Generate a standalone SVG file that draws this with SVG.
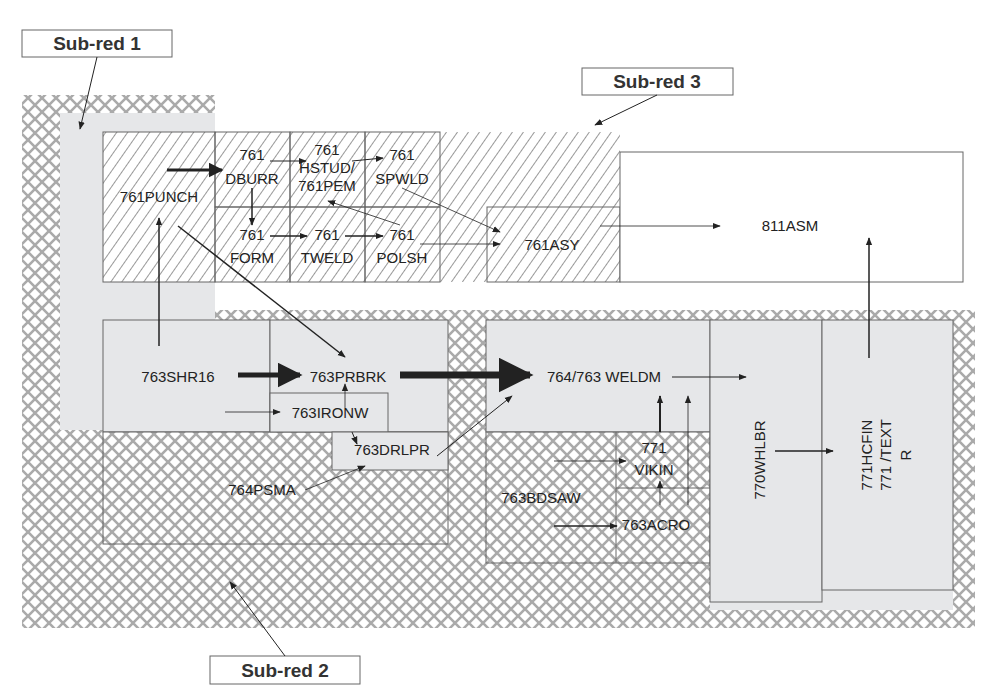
<svg xmlns="http://www.w3.org/2000/svg" width="994" height="700" viewBox="0 0 994 700">
<style>
text{font-family:"Liberation Sans",Arial,sans-serif;font-size:15px;fill:#222}
.b{fill:none;stroke:#666;stroke-width:1}
.g{fill:#e6e7e9;stroke:#666;stroke-width:1}
.c{stroke:#222;fill:none}
.lab{font-family:"Liberation Sans Narrow","Liberation Sans",sans-serif;font-weight:bold;font-size:19px;fill:#333}
</style>
<defs>
<pattern id="x" width="14" height="14" patternUnits="userSpaceOnUse"><rect width="14" height="14" fill="#fff"/><path d="M0 0L14 14M14 0L0 14" stroke="#aaa" stroke-width="2.6"/></pattern>
<pattern id="d" width="9" height="9" patternUnits="userSpaceOnUse" patternTransform="rotate(35)"><rect width="9" height="9" fill="#fff"/><path d="M0 0V9" stroke="#444" stroke-width="1.1"/></pattern>
<marker id="a" viewBox="0 0 10 10" refX="9" refY="5" markerWidth="8" markerHeight="8" markerUnits="userSpaceOnUse" orient="auto"><path d="M0 1L10 5L0 9z" fill="#222"/></marker>
<marker id="a2" viewBox="0 0 10 10" refX="9" refY="5" markerWidth="5" markerHeight="5" orient="auto"><path d="M0 0L10 5L0 10z" fill="#222"/></marker>
</defs>
<g id="zones">
<path d="M22 95H215V310H975V628H22Z" fill="url(#x)"/>
<path d="M60 113H215V320H103V430H60Z" fill="#e6e7e9"/>
<path d="M103 132H620V282H103Z" fill="url(#d)"/>
<rect x="215" y="282" width="272" height="28" fill="#fff"/>
<rect x="710" y="320" width="243" height="290" fill="#e6e7e9"/>
</g>
<g id="n761PUNCH"><rect class="b" x="103" y="132" width="112" height="150"/><text x="159" y="202" text-anchor="middle">761PUNCH</text></g>
<g id="n761DBURR"><rect class="b" x="215" y="132" width="75" height="75"/><text x="252" y="160" text-anchor="middle">761</text><text x="252" y="184" text-anchor="middle">DBURR</text></g>
<g id="n761HSTUD"><rect class="b" x="290" y="132" width="75" height="75"/><text x="327" y="155" text-anchor="middle">761</text><text x="327" y="173" text-anchor="middle">HSTUD/</text><text x="327" y="191" text-anchor="middle">761PEM</text></g>
<g id="n761SPWLD"><rect class="b" x="365" y="132" width="75" height="75"/><text x="402" y="160" text-anchor="middle">761</text><text x="402" y="184" text-anchor="middle">SPWLD</text></g>
<g id="n761FORM"><rect class="b" x="215" y="207" width="75" height="75"/><text x="252" y="240" text-anchor="middle">761</text><text x="252" y="263" text-anchor="middle">FORM</text></g>
<g id="n761TWELD"><rect class="b" x="290" y="207" width="75" height="75"/><text x="327" y="240" text-anchor="middle">761</text><text x="327" y="263" text-anchor="middle">TWELD</text></g>
<g id="n761POLSH"><rect class="b" x="365" y="207" width="75" height="75"/><text x="402" y="240" text-anchor="middle">761</text><text x="402" y="263" text-anchor="middle">POLSH</text></g>
<g id="n761ASY"><rect class="b" x="487" y="207" width="133" height="75"/><text x="552" y="250" text-anchor="middle">761ASY</text></g>
<g id="n811ASM"><rect x="620" y="152" width="343" height="130" fill="#fff" stroke="#666"/><text x="790" y="231" text-anchor="middle">811ASM</text></g>
<g id="n763SHR16"><rect class="g" x="103" y="320" width="167" height="112"/><text x="178" y="382" text-anchor="middle">763SHR16</text></g>
<g id="n763PRBRK"><rect class="g" x="270" y="320" width="178" height="112"/><text x="348" y="382" text-anchor="middle">763PRBRK</text></g>
<g id="n764PSMA"><rect x="103" y="432" width="345" height="112" fill="url(#x)" stroke="#666"/><text x="262" y="495" text-anchor="middle">764PSMA</text></g>
<g id="n763IRONW"><rect class="g" x="270" y="393" width="118" height="39"/><text x="330" y="418" text-anchor="middle">763IRONW</text></g>
<g id="n763DRLPR"><rect class="g" x="332" y="432" width="116" height="38"/><text x="392" y="455" text-anchor="middle">763DRLPR</text></g>
<g id="nWELDM"><rect class="g" x="486" y="320" width="224" height="112"/><text x="604" y="382" text-anchor="middle">764/763 WELDM</text></g>
<g id="n763BDSAW"><rect x="486" y="432" width="224" height="131" fill="url(#x)" stroke="#666"/><line x1="616" y1="432" x2="616" y2="563" stroke="#666"/><line x1="616" y1="488" x2="710" y2="488" stroke="#666"/><text x="541" y="503" text-anchor="middle">763BDSAW</text><text x="656" y="530" text-anchor="middle">763ACRO</text><text x="654" y="453" text-anchor="middle">771</text><text x="654" y="475" text-anchor="middle">VIKIN</text></g>
<g id="n770WHLBR"><rect class="g" x="710" y="320" width="112" height="282"/><text transform="translate(765,460) rotate(-90)" text-anchor="middle">770WHLBR</text></g>
<g id="n771HCFIN"><rect class="g" x="822" y="320" width="131" height="270"/><text transform="translate(872,455) rotate(-90)" text-anchor="middle">771HCFIN</text><text transform="translate(891,455) rotate(-90)" text-anchor="middle">771 /TEXT</text><text transform="translate(911,455) rotate(-90)" text-anchor="middle">R</text></g>
<g id="labels">
<rect x="22" y="30" width="150" height="27" fill="#fff" stroke="#666"/><text class="lab" x="97" y="50" text-anchor="middle">Sub-red 1</text>
<rect x="582" y="68" width="151" height="27" fill="#fff" stroke="#666"/><text class="lab" x="657" y="88" text-anchor="middle">Sub-red 3</text>
<rect x="210" y="656" width="150" height="28" fill="#fff" stroke="#666"/><text class="lab" x="285" y="677" text-anchor="middle">Sub-red 2</text>
</g>
<g id="connectors" class="c">
<line x1="97" y1="57" x2="80" y2="129" stroke-width="1" marker-end="url(#a)"/>
<line x1="657" y1="95" x2="595" y2="125" stroke-width="1" marker-end="url(#a)"/>
<line x1="285" y1="656" x2="230" y2="582" stroke-width="1" marker-end="url(#a)"/>
<line x1="167" y1="170" x2="222" y2="170" stroke-width="3" marker-end="url(#a2)"/>
<line x1="270" y1="161" x2="306" y2="161" stroke-width="1" marker-end="url(#a)"/>
<line x1="352" y1="161" x2="383" y2="158" stroke-width="1" marker-end="url(#a)"/>
<line x1="252" y1="188" x2="252" y2="225" stroke-width="1.5" marker-end="url(#a)"/>
<line x1="270" y1="236" x2="307" y2="236" stroke-width="1.5" marker-end="url(#a)"/>
<line x1="345" y1="236" x2="383" y2="236" stroke-width="1.5" marker-end="url(#a)"/>
<line x1="400" y1="225" x2="328" y2="201" stroke-width="0.8" marker-end="url(#a)"/>
<line x1="402" y1="188" x2="500" y2="232" stroke-width="0.8" marker-end="url(#a)"/>
<line x1="420" y1="244" x2="500" y2="244" stroke-width="0.8" marker-end="url(#a)"/>
<line x1="600" y1="226" x2="720" y2="226" stroke-width="0.8" marker-end="url(#a)"/>
<line x1="159" y1="346" x2="159" y2="218" stroke-width="1.5" marker-end="url(#a)"/>
<line x1="178" y1="226" x2="345" y2="357" stroke-width="1.5" marker-end="url(#a)"/>
<line x1="238" y1="375" x2="300" y2="375" stroke-width="5" marker-end="url(#a2)"/>
<line x1="400" y1="375" x2="530" y2="375" stroke-width="7" marker-end="url(#a2)"/>
<line x1="437" y1="456" x2="512" y2="396" stroke-width="1" marker-end="url(#a)"/>
<line x1="672" y1="377" x2="746" y2="377" stroke-width="1" marker-end="url(#a)"/>
<line x1="660" y1="432" x2="660" y2="396" stroke-width="2" marker-end="url(#a)"/>
<line x1="688" y1="505" x2="688" y2="396" stroke-width="0.8" marker-end="url(#a)"/>
<line x1="660" y1="505" x2="660" y2="481" stroke-width="0.8" marker-end="url(#a)"/>
<line x1="554" y1="461" x2="626" y2="461" stroke-width="0.8" marker-end="url(#a)"/>
<line x1="554" y1="526" x2="617" y2="526" stroke-width="1.5" marker-end="url(#a)"/>
<line x1="775" y1="451" x2="833" y2="451" stroke-width="1.5" marker-end="url(#a)"/>
<line x1="869" y1="358" x2="869" y2="238" stroke-width="1.5" marker-end="url(#a)"/>
<line x1="225" y1="412" x2="280" y2="412" stroke-width="0.8" marker-end="url(#a)"/>
<line x1="345" y1="408" x2="345" y2="384" stroke-width="0.8" marker-end="url(#a)"/>
<line x1="352" y1="432" x2="357" y2="444" stroke-width="1" marker-end="url(#a)"/>
<line x1="305" y1="490" x2="365" y2="466" stroke-width="0.8" marker-end="url(#a)"/>
</g>
</svg>
